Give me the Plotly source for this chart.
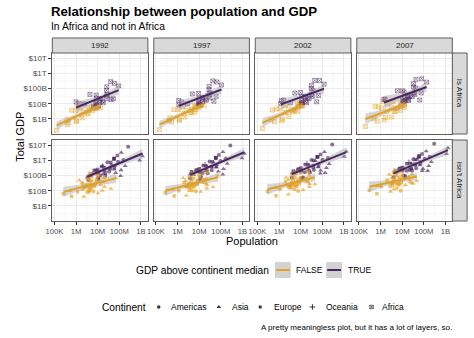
import numpy as np
import plotly.graph_objects as go

# ---------------- data (log10 values) ----------------
years = [1992, 1997, 2002, 2007]
continents = ["Americas", "Asia", "Europe", "Oceania", "Africa"]
row_labels = ["Is Africa", "Isn't Africa"]
group_labels = ["FALSE", "TRUE"]
pop_ticks = [5, 6, 7, 8, 9]            # log10(population)
pop_labels = ["100K", "1M", "10M", "100M", "1B"]
gdp_ticks = [9, 10, 11, 12, 13]        # log10(GDP)
gdp_labels = ["$1B", "$10B", "$100B", "$1T", "$10T"]

# Africa
af_pop_1992 = [7.42, 6.94, 6.70, 6.13, 6.95, 6.76, 7.10, 6.51, 6.81, 5.65, 7.62, 6.38, 7.11, 5.58, 7.77, 5.59, 6.56, 7.72, 6.00, 6.01, 7.21, 6.84, 6.02, 7.40, 6.26, 6.28, 6.64, 7.09, 7.00, 6.93, 6.33, 6.04, 7.41, 7.12, 6.19, 6.92, 7.97, 5.79, 6.86, 5.10, 6.92, 6.63, 6.79, 7.60, 7.45, 5.98, 7.43, 6.57, 6.93, 7.26, 6.92, 7.03]
af_gdp_1992 = [11.12, 10.36, 9.77, 10.03, 9.92, 9.56, 10.35, 9.39, 9.83, 8.75, 10.28, 9.99, 10.32, 8.95, 11.35, 8.64, 9.33, 10.34, 10.13, 8.84, 10.18, 9.74, 8.89, 10.52, 9.25, 9.08, 10.62, 10.10, 9.77, 9.79, 9.46, 9.82, 10.88, 9.73, 9.77, 9.69, 11.18, 9.58, 9.73, 8.25, 10.06, 9.66, 9.75, 11.46, 10.62, 9.53, 10.34, 9.59, 10.57, 10.07, 10.01, 9.87]
af_pop_1997 = [7.46, 6.99, 6.78, 6.19, 7.01, 6.79, 7.15, 6.57, 6.88, 5.72, 7.68, 6.45, 7.16, 5.62, 7.82, 5.64, 6.61, 7.78, 6.05, 6.09, 7.26, 6.91, 6.08, 7.45, 6.30, 6.34, 6.68, 7.15, 7.02, 6.97, 6.39, 6.06, 7.45, 7.22, 6.25, 6.99, 8.03, 5.83, 6.86, 5.16, 6.98, 6.66, 6.82, 7.63, 7.51, 6.02, 7.49, 6.64, 6.97, 7.33, 6.97, 7.06]
af_gdp_1997 = [11.14, 10.35, 9.87, 10.12, 9.99, 9.45, 10.38, 9.44, 9.88, 8.79, 10.17, 9.99, 10.42, 8.90, 11.44, 9.09, 9.57, 10.49, 10.22, 8.91, 10.27, 9.85, 8.98, 10.59, 9.37, 9.13, 10.65, 10.14, 9.86, 9.87, 9.56, 9.93, 10.93, 9.89, 9.84, 9.75, 11.24, 9.62, 9.63, 8.29, 10.12, 9.42, 9.79, 11.51, 10.72, 9.61, 10.38, 9.63, 10.68, 10.24, 10.00, 9.95]
af_pop_2002 = [7.50, 7.04, 6.85, 6.21, 7.09, 6.85, 7.20, 6.61, 6.95, 5.79, 7.74, 6.52, 7.21, 5.65, 7.87, 5.70, 6.64, 7.83, 6.11, 6.16, 7.31, 6.94, 6.12, 7.50, 6.31, 6.45, 6.73, 7.22, 7.07, 7.02, 6.45, 6.08, 7.49, 7.27, 6.29, 7.05, 8.08, 5.87, 6.89, 5.23, 7.04, 6.73, 6.89, 7.65, 7.57, 6.05, 7.54, 6.70, 6.99, 7.39, 7.03, 7.08]
af_gdp_2002 = [11.22, 10.48, 9.98, 10.25, 10.10, 9.50, 10.49, 9.48, 10.01, 8.82, 10.13, 10.06, 10.43, 8.94, 11.54, 9.59, 9.53, 10.55, 10.21, 8.98, 10.36, 9.92, 8.88, 10.61, 9.42, 9.17, 10.71, 10.17, 9.90, 10.00, 9.65, 10.03, 11.01, 10.07, 9.90, 9.83, 11.29, 9.67, 9.79, 8.36, 10.22, 9.57, 9.83, 11.54, 10.87, 9.67, 10.49, 9.64, 10.75, 10.36, 10.06, 9.90]
af_pop_2007 = [7.52, 7.09, 6.91, 6.21, 7.16, 6.92, 7.25, 6.64, 7.01, 5.85, 7.81, 6.58, 7.26, 5.70, 7.90, 5.74, 6.69, 7.88, 6.16, 6.23, 7.36, 7.00, 6.17, 7.55, 6.30, 6.50, 6.78, 7.28, 7.12, 7.08, 6.51, 6.10, 7.53, 7.30, 6.31, 7.11, 8.13, 5.90, 6.95, 5.30, 7.09, 6.79, 6.96, 7.64, 7.63, 6.05, 7.58, 6.76, 7.01, 7.47, 7.07, 7.09]
af_gdp_2007 = [11.32, 10.78, 10.07, 10.31, 10.24, 9.56, 10.56, 9.49, 10.24, 8.85, 10.25, 10.14, 10.44, 9.02, 11.65, 9.83, 9.50, 10.72, 10.28, 9.10, 10.48, 9.97, 8.93, 10.72, 9.50, 9.12, 10.86, 10.30, 10.00, 10.10, 9.77, 10.14, 11.11, 10.22, 10.00, 9.90, 11.43, 9.79, 9.88, 8.50, 10.32, 9.72, 9.93, 11.61, 11.04, 9.71, 10.62, 9.70, 10.86, 10.49, 10.17, 9.76]

# Americas
am_pop_1992 = [7.53, 6.84, 8.19, 7.45, 7.13, 7.53, 6.50, 7.03, 6.87, 7.03, 6.72, 6.93, 6.80, 6.71, 6.38, 7.94, 6.60, 6.39, 6.65, 7.35, 6.56, 6.07, 8.41, 6.50, 7.31]
am_gdp_1992 = [11.50, 10.31, 12.03, 11.88, 11.01, 11.27, 10.29, 10.78, 10.35, 10.88, 10.37, 10.58, 9.96, 10.19, 10.25, 11.92, 9.94, 10.21, 10.27, 11.00, 10.72, 9.94, 12.91, 10.41, 11.34]
am_pop_1997 = [7.56, 6.89, 8.23, 7.48, 7.16, 7.58, 6.55, 7.04, 6.90, 7.08, 6.76, 6.99, 6.84, 6.77, 6.40, 7.98, 6.66, 6.44, 6.71, 7.39, 6.58, 6.06, 8.44, 6.51, 7.35]
am_gdp_1997 = [11.60, 10.41, 12.13, 11.94, 11.17, 11.36, 10.37, 10.78, 10.46, 10.95, 10.47, 10.66, 9.97, 10.27, 10.26, 11.97, 10.02, 10.29, 10.34, 11.16, 10.81, 10.00, 12.99, 10.48, 11.36]
am_pop_2002 = [7.58, 6.93, 8.26, 7.50, 7.19, 7.61, 6.58, 7.05, 6.94, 7.11, 6.80, 7.05, 6.88, 6.82, 6.42, 8.01, 6.71, 6.48, 6.77, 7.43, 6.59, 6.04, 8.46, 6.53, 7.39]
am_gdp_2002 = [11.53, 10.46, 12.16, 12.03, 11.22, 11.37, 10.47, 10.85, 10.60, 10.87, 10.53, 10.74, 9.99, 10.32, 10.27, 12.04, 10.10, 10.34, 10.35, 11.20, 10.86, 10.10, 13.05, 10.41, 11.32]
am_pop_2007 = [7.61, 6.96, 8.28, 7.52, 7.21, 7.65, 6.62, 7.06, 6.97, 7.14, 6.84, 7.10, 6.93, 6.87, 6.44, 8.04, 6.75, 6.51, 6.82, 7.46, 6.60, 6.03, 8.48, 6.54, 7.42]
am_gdp_2007 = [11.71, 10.54, 12.24, 12.08, 11.33, 11.49, 10.60, 11.01, 10.75, 10.98, 10.60, 10.82, 10.01, 10.42, 10.31, 12.11, 10.19, 10.50, 10.44, 11.33, 10.88, 10.28, 13.11, 10.56, 11.47]

# Asia
as_pop_1992 = [7.21, 5.72, 8.06, 7.01, 9.07, 6.77, 8.94, 8.27, 7.78, 7.25, 6.69, 8.09, 6.59, 7.32, 7.64, 6.15, 6.51, 7.26, 6.36, 7.61, 7.31, 6.28, 8.08, 7.83, 7.23, 6.51, 7.25, 7.12, 7.32, 7.75, 7.84, 6.29, 7.13]
as_gdp_1992 = [10.02, 10.00, 10.98, 9.84, 12.29, 11.16, 12.01, 11.64, 11.64, 10.83, 10.95, 12.52, 10.12, 10.89, 11.72, 10.69, 10.34, 11.12, 9.62, 10.15, 10.26, 10.55, 11.37, 11.19, 11.62, 10.90, 10.58, 10.64, 11.50, 11.42, 10.84, 10.07, 10.40]
as_pop_1997 = [7.35, 5.78, 8.09, 7.07, 9.09, 6.81, 8.98, 8.30, 7.80, 7.32, 6.74, 8.10, 6.66, 7.33, 7.66, 6.25, 6.54, 7.31, 6.40, 7.64, 7.36, 6.36, 8.13, 7.88, 7.33, 6.58, 7.27, 7.18, 7.33, 7.78, 7.88, 6.45, 7.20]
as_gdp_1997 = [10.15, 10.09, 11.08, 9.94, 12.45, 11.27, 12.15, 11.79, 11.72, 10.81, 11.06, 12.56, 10.22, 10.48, 11.87, 10.85, 10.48, 11.32, 9.68, 10.25, 10.37, 10.66, 11.44, 11.28, 11.64, 11.10, 10.70, 10.78, 11.64, 11.55, 11.02, 10.30, 10.52]
as_pop_2002 = [7.40, 5.82, 8.13, 7.11, 9.11, 6.83, 9.01, 8.32, 7.83, 7.38, 6.78, 8.10, 6.73, 7.35, 7.68, 6.32, 6.57, 7.36, 6.43, 7.66, 7.41, 6.43, 8.19, 7.92, 7.39, 6.62, 7.29, 7.24, 7.35, 7.80, 7.91, 6.53, 7.27]
as_gdp_2002 = [10.26, 10.19, 11.19, 10.06, 12.60, 11.31, 12.26, 11.78, 11.79, 11.02, 11.12, 12.56, 10.31, 10.56, 11.97, 10.87, 10.54, 11.37, 9.76, 10.44, 10.44, 10.73, 11.51, 11.34, 11.67, 11.18, 10.77, 10.85, 11.72, 11.57, 11.15, 10.18, 10.62]
as_pop_2007 = [7.50, 5.85, 8.18, 7.15, 9.12, 6.84, 9.05, 8.35, 7.84, 7.44, 6.81, 8.11, 6.78, 7.37, 7.69, 6.40, 6.59, 7.39, 6.46, 7.68, 7.46, 6.51, 8.23, 7.96, 7.44, 6.66, 7.31, 7.29, 7.37, 7.81, 7.93, 6.60, 7.35]
as_gdp_2007 = [10.49, 10.32, 11.32, 10.38, 12.82, 11.44, 12.43, 11.90, 11.91, 11.09, 11.21, 12.61, 10.44, 10.57, 12.06, 11.07, 10.61, 11.49, 9.95, 10.65, 10.50, 10.85, 11.64, 11.46, 11.78, 11.33, 10.91, 10.91, 11.82, 11.69, 11.32, 10.09, 10.70]

# Europe
eu_pop_1992 = [6.52, 6.90, 7.00, 6.63, 6.94, 6.65, 7.01, 6.71, 6.70, 7.76, 7.91, 7.01, 7.01, 5.41, 6.55, 7.75, 5.79, 7.18, 6.63, 7.58, 7.00, 7.36, 6.99, 6.72, 6.30, 7.60, 6.94, 6.84, 7.77, 7.76]
eu_gdp_1992 = [9.92, 11.33, 11.41, 10.03, 10.74, 10.58, 11.17, 11.13, 11.01, 12.15, 12.33, 11.26, 11.04, 9.81, 10.80, 12.10, 9.64, 11.61, 11.16, 11.47, 11.21, 11.18, 10.96, 10.70, 10.45, 11.87, 11.32, 11.35, 11.52, 12.12]
eu_pop_1997 = [6.54, 6.91, 7.01, 6.56, 6.91, 6.65, 7.01, 6.72, 6.71, 7.77, 7.91, 7.02, 7.01, 5.43, 6.56, 7.76, 5.84, 7.19, 6.64, 7.59, 7.01, 7.35, 7.01, 6.73, 6.30, 7.60, 6.95, 6.86, 7.80, 7.77]
eu_gdp_1997 = [10.04, 11.37, 11.45, 10.24, 10.68, 10.64, 11.22, 11.20, 11.09, 12.18, 12.36, 11.29, 11.08, 9.88, 10.95, 12.15, 9.65, 11.67, 11.26, 11.59, 11.25, 11.22, 10.91, 10.81, 10.54, 11.91, 11.35, 11.36, 11.62, 12.19]
eu_pop_2002 = [6.55, 6.91, 7.01, 6.62, 6.88, 6.65, 7.01, 6.73, 6.72, 7.78, 7.92, 7.03, 7.00, 5.46, 6.59, 7.76, 5.86, 7.21, 6.66, 7.59, 7.02, 7.35, 7.00, 6.73, 6.30, 7.60, 6.95, 6.87, 7.83, 7.78]
eu_gdp_2002 = [10.21, 11.42, 11.50, 10.40, 10.77, 10.72, 11.26, 11.24, 11.17, 12.24, 12.39, 11.38, 11.18, 9.95, 11.12, 12.21, 9.67, 11.74, 11.31, 11.67, 11.32, 11.25, 10.86, 10.87, 10.62, 12.00, 11.42, 11.40, 11.64, 12.25]
eu_pop_2007 = [6.56, 6.91, 7.02, 6.66, 6.86, 6.65, 7.01, 6.74, 6.72, 7.79, 7.92, 7.03, 7.00, 5.48, 6.61, 7.76, 5.83, 7.22, 6.67, 7.59, 7.03, 7.35, 7.01, 6.74, 6.30, 7.61, 6.96, 6.88, 7.85, 7.78]
eu_gdp_2007 = [10.33, 11.47, 11.54, 10.53, 10.89, 10.82, 11.37, 11.29, 11.24, 12.27, 12.42, 11.47, 11.25, 10.04, 11.22, 12.22, 9.80, 11.79, 11.36, 11.77, 11.34, 11.38, 11.00, 11.01, 10.71, 12.07, 11.49, 11.45, 11.78, 12.31]

# Oceania
oc_pop_1992 = [7.24, 6.54]
oc_gdp_1992 = [11.61, 10.80]
oc_pop_1997 = [7.27, 6.57]
oc_gdp_1997 = [11.70, 10.89]
oc_pop_2002 = [7.29, 6.59]
oc_gdp_2002 = [11.78, 10.96]
oc_pop_2007 = [7.31, 6.61]
oc_gdp_2007 = [11.85, 11.02]

# --------------- tables built from the arrays ----------------
POP = {
    ("Africa", 1992): af_pop_1992, ("Africa", 1997): af_pop_1997, ("Africa", 2002): af_pop_2002, ("Africa", 2007): af_pop_2007,
    ("Americas", 1992): am_pop_1992, ("Americas", 1997): am_pop_1997, ("Americas", 2002): am_pop_2002, ("Americas", 2007): am_pop_2007,
    ("Asia", 1992): as_pop_1992, ("Asia", 1997): as_pop_1997, ("Asia", 2002): as_pop_2002, ("Asia", 2007): as_pop_2007,
    ("Europe", 1992): eu_pop_1992, ("Europe", 1997): eu_pop_1997, ("Europe", 2002): eu_pop_2002, ("Europe", 2007): eu_pop_2007,
    ("Oceania", 1992): oc_pop_1992, ("Oceania", 1997): oc_pop_1997, ("Oceania", 2002): oc_pop_2002, ("Oceania", 2007): oc_pop_2007,
}
GDP = {
    ("Africa", 1992): af_gdp_1992, ("Africa", 1997): af_gdp_1997, ("Africa", 2002): af_gdp_2002, ("Africa", 2007): af_gdp_2007,
    ("Americas", 1992): am_gdp_1992, ("Americas", 1997): am_gdp_1997, ("Americas", 2002): am_gdp_2002, ("Americas", 2007): am_gdp_2007,
    ("Asia", 1992): as_gdp_1992, ("Asia", 1997): as_gdp_1997, ("Asia", 2002): as_gdp_2002, ("Asia", 2007): as_gdp_2007,
    ("Europe", 1992): eu_gdp_1992, ("Europe", 1997): eu_gdp_1997, ("Europe", 2002): eu_gdp_2002, ("Europe", 2007): eu_gdp_2007,
    ("Oceania", 1992): oc_gdp_1992, ("Oceania", 1997): oc_gdp_1997, ("Oceania", 2002): oc_gdp_2002, ("Oceania", 2007): oc_gdp_2007,
}

# --------------- styling ----------------
W, H = 474, 338
FONT = "Liberation Sans, Arial, sans-serif"
COL = {False: "#E6A01F", True: "#4A2660"}
SYMBOL = {"Americas": ("circle", 4, 0), "Asia": ("triangle-up", 4.5, 0), "Europe": ("square", 3.5, 0),
          "Oceania": ("cross-thin-open", 4.5, 1), "Africa": ("square-x-open", 4, 0.7)}
BORDER = "#5E5E5E"
col_px = [(46, 143), (149, 246), (252, 349), (355, 452)]
row_px = [(53, 134), (140, 221)]
XR = [4.90, 9.32]
YR = [8.01, 13.35]
x_minor = [5.5, 6.5, 7.5, 8.5]
y_minor = [8.5, 9.5, 10.5, 11.5, 12.5]


def fx(p):
    return p / W


def fy(p):
    return 1 - p / H


def tcrit(df):
    return 1.96 + 2.4 / df + 3.0 / df ** 2


def smooth(x, y, n=60):
    x = np.asarray(x, float)
    y = np.asarray(y, float)
    b, a = np.polyfit(x, y, 1)
    xs = np.linspace(x.min(), x.max(), n)
    yh = a + b * xs
    dof = len(x) - 2
    s = np.sqrt(((y - (a + b * x)) ** 2).sum() / dof)
    sxx = ((x - x.mean()) ** 2).sum()
    se = s * np.sqrt(1 / len(x) + (xs - x.mean()) ** 2 / sxx)
    t = tcrit(dof)
    return xs, yh, yh - t * se, yh + t * se


def note(text, px, py, size, xanchor="center", angle=0, color="black"):
    return dict(text=text, x=fx(px), y=fy(py), xref="paper", yref="paper", xanchor=xanchor,
                yanchor="middle", showarrow=False, textangle=angle, borderpad=0, borderwidth=0,
                font=dict(size=size, color=color, family=FONT))


fig = go.Figure()
layout = dict(width=W, height=H, margin=dict(l=0, r=0, t=0, b=0, pad=0), autosize=False,
              paper_bgcolor="white", plot_bgcolor="rgba(0,0,0,0)", showlegend=False,
              font=dict(family=FONT, color="black"))
shapes = []
annotations = []

for r in range(2):
    for c, yr in enumerate(years):
        k = r * 4 + c + 1
        xa = "x" if k == 1 else f"x{k}"
        ya = "y" if k == 1 else f"y{k}"
        # minor grid lines (ggplot style, half-way between majors)
        for v in x_minor:
            shapes.append(dict(type="line", xref=xa, yref=f"{ya} domain", x0=v, x1=v, y0=0, y1=1,
                               layer="below", line=dict(color="#F3F3F3", width=0.8)))
        for v in y_minor:
            shapes.append(dict(type="line", xref=f"{xa} domain", yref=ya, x0=0, x1=1, y0=v, y1=v,
                               layer="below", line=dict(color="#F3F3F3", width=0.8)))
        conts = ["Africa"] if r == 0 else ["Americas", "Asia", "Europe", "Oceania"]
        gx = {False: [], True: []}
        gy = {False: [], True: []}
        for cont in conts:
            p = np.array(POP[(cont, yr)])
            g = np.array(GDP[(cont, yr)])
            above = g > np.median(g)
            for flag in (False, True):
                m = above == flag
                if not m.any():
                    continue
                gx[flag].extend(p[m].tolist())
                gy[flag].extend(g[m].tolist())
                sym, sz, lw = SYMBOL[cont]
                fig.add_trace(go.Scatter(
                    x=p[m], y=g[m], mode="markers", xaxis=xa, yaxis=ya,
                    marker=dict(symbol=sym, size=sz, color=COL[flag], opacity=0.65,
                                line=dict(width=lw, color=COL[flag])),
                    hoverinfo="skip"))
        for flag in (False, True):
            xs, yh, lo, hi = smooth(gx[flag], gy[flag])
            fig.add_trace(go.Scatter(
                x=np.concatenate([xs, xs[::-1]]), y=np.concatenate([hi, lo[::-1]]),
                fill="toself", fillcolor="rgba(153,153,153,0.4)", line=dict(width=0),
                mode="lines", xaxis=xa, yaxis=ya, hoverinfo="skip"))
            fig.add_trace(go.Scatter(x=xs, y=yh, mode="lines", xaxis=xa, yaxis=ya,
                                     line=dict(color=COL[flag], width=2), hoverinfo="skip"))

        L, R = col_px[c]
        T, B = row_px[r]
        axcommon = dict(type="linear", showline=True, mirror=True, linecolor=BORDER, linewidth=1,
                        showgrid=True, gridcolor="#EBEBEB", gridwidth=1, zeroline=False,
                        ticklen=3, tickcolor="#333333", tickwidth=1, fixedrange=True)
        layout["xaxis" if k == 1 else f"xaxis{k}"] = dict(
            axcommon, domain=[fx(L), fx(R)], anchor=ya, range=XR,
            tickfont=dict(size=7.6, color="#4D4D4D", family=FONT),
            tickmode="array", tickvals=pop_ticks, ticktext=pop_labels,
            showticklabels=(r == 1), ticks="outside" if r == 1 else "")
        layout["yaxis" if k == 1 else f"yaxis{k}"] = dict(
            axcommon, domain=[fy(B), fy(T)], anchor=xa, range=YR,
            tickfont=dict(size=8, color="#4D4D4D", family=FONT),
            tickmode="array", tickvals=gdp_ticks, ticktext=gdp_labels,
            showticklabels=(c == 0), ticks="outside" if c == 0 else "")

# strips (top)
for c, yr in enumerate(years):
    L, R = col_px[c]
    shapes.append(dict(type="rect", xref="paper", yref="paper", x0=fx(L), x1=fx(R), y0=fy(53), y1=fy(38),
                       fillcolor="#D9D9D9", line=dict(color=BORDER, width=1)))
    annotations.append(note(str(yr), (L + R) / 2, 45.5, 8, color="#1A1A1A"))
# strips (right)
for r, lab in enumerate(row_labels):
    T, B = row_px[r]
    shapes.append(dict(type="rect", xref="paper", yref="paper", x0=fx(452), x1=fx(467), y0=fy(B), y1=fy(T),
                       fillcolor="#D9D9D9", line=dict(color=BORDER, width=1)))
    annotations.append(note(lab, 459.5, (T + B) / 2, 8, angle=90, color="#1A1A1A"))

# titles
annotations += [
    note("<b>Relationship between population and GDP</b>", 45, 11, 13.2, xanchor="left"),
    note("In Africa and not in Africa", 45, 26.5, 10.3, xanchor="left"),
    note("Population", 249, 241, 11),
    note("Total GDP", 13, 137, 11, angle=-90),
    note("A pretty meaningless plot, but it has a lot of layers, so.", 452, 327, 8, xanchor="right"),
]

# legend 1 : GDP above continent median
annotations.append(note("GDP above continent median", 131, 270, 10.2, xanchor="left"))
for (x0, x1, tx), flag, lab in zip([(272, 288, 293), (324, 340, 346)], (False, True), group_labels):
    shapes.append(dict(type="rect", xref="paper", yref="paper", x0=fx(x0), x1=fx(x1), y0=fy(278), y1=fy(262),
                       fillcolor="#D2D2D2", line=dict(width=0)))
    shapes.append(dict(type="line", xref="paper", yref="paper", x0=fx(x0 + 1), x1=fx(x1 - 1), y0=fy(270), y1=fy(270),
                       line=dict(color=COL[flag], width=2)))
    annotations.append(note(lab, tx, 270, 8.5, xanchor="left"))

# legend 2 : Continent
annotations.append(note("Continent", 96, 307, 10.2, xanchor="left"))
leg_mark_x = [154, 215, 257, 310, 370]
leg_text_x = [166, 228, 271, 324, 381]
for cont, mx, tx in zip(continents, leg_mark_x, leg_text_x):
    sym, sz, lw = SYMBOL[cont]
    fig.add_trace(go.Scatter(x=[mx], y=[307], mode="markers", xaxis="x9", yaxis="y9",
                             marker=dict(symbol=sym, size=sz - 0.5, color="#333333",
                                         line=dict(width=lw, color="#333333")),
                             hoverinfo="skip"))
    annotations.append(note(cont, tx, 307, 8.5, xanchor="left"))
layout["xaxis9"] = dict(domain=[0, 1], range=[0, W], visible=False, anchor="y9", fixedrange=True)
layout["yaxis9"] = dict(domain=[0, 1], range=[H, 0], visible=False, anchor="x9", fixedrange=True)

layout["shapes"] = shapes
layout["annotations"] = annotations
fig.update_layout(**layout)
fig.write_html("out.html", config={"displayModeBar": False})
